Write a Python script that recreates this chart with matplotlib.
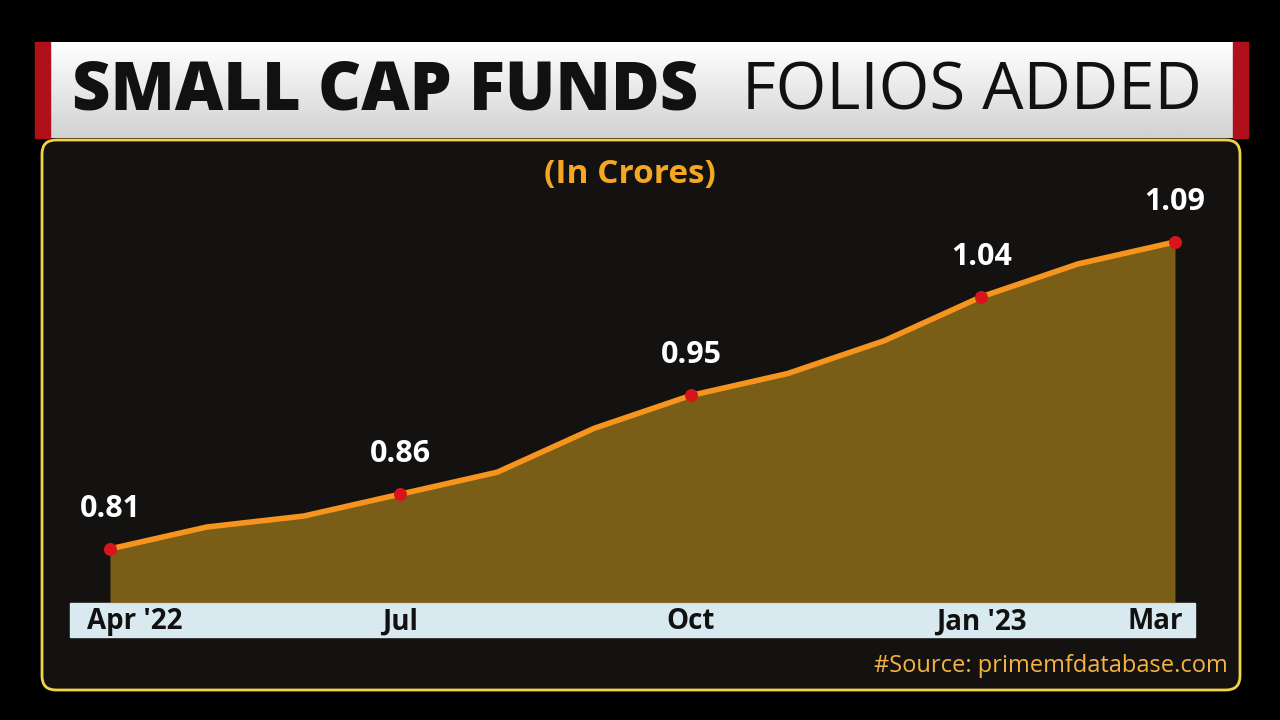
import matplotlib
matplotlib.use("Agg")
import matplotlib.pyplot as plt
import numpy as np
from matplotlib.patches import FancyBboxPatch, Rectangle

months = ["Apr '22", "May", "Jun", "Jul", "Aug", "Sep", "Oct", "Nov", "Dec", "Jan '23", "Feb", "Mar"]
folios = [0.81, 0.83, 0.84, 0.86, 0.88, 0.92, 0.95, 0.97, 1.00, 1.04, 1.07, 1.09]
labelled = [0, 3, 6, 9, 11]
tick_idx = [0, 3, 6, 9, 11]

W, H = 1280, 720
fig = plt.figure(figsize=(12.8, 7.2), dpi=100, facecolor="black")

def box(l, t, r, b):
    return [l / W, 1 - b / H, (r - l) / W, (b - t) / H]

bg = fig.add_axes([0, 0, 1, 1])
bg.set_xlim(0, W); bg.set_ylim(H, 0); bg.axis("off")
bg.add_patch(Rectangle((0, 0), W, H, color="black"))
bg.add_patch(FancyBboxPatch((42, 140), 1198, 550, boxstyle="round,pad=0,rounding_size=14",
                            facecolor="#141210", edgecolor="#f2d24a", lw=2))
# title banner with gradient
grad = np.linspace(1, 0.82, 100).reshape(-1, 1)
bg.imshow(grad, extent=(35, 1248, 138, 42), cmap="gray", vmin=0, vmax=1, aspect="auto", zorder=2)
bg.add_patch(Rectangle((35, 42), 15, 96, color="#b0101a", zorder=3))
bg.add_patch(Rectangle((1233, 42), 15, 96, color="#b0101a", zorder=3))
bg.text(72, 92, "SMALL CAP FUNDS", fontsize=48, fontweight="black", color="#111111",
        ha="left", va="center", family="Open Sans", zorder=4)
bg.text(1202, 92, "FOLIOS ADDED", fontsize=47, color="#111111",
        ha="right", va="center", family="Open Sans", zorder=4)
bg.text(630, 175, "(In Crores)", fontsize=24, fontweight="bold", color="#f5a623",
        ha="center", va="center", family="Open Sans", zorder=4)
bg.text(1228, 666, "#Source: primemfdatabase.com", fontsize=17, color="#f5b342",
        ha="right", va="center", family="Open Sans", zorder=4)
bg.add_patch(Rectangle((70, 603), 1125, 34, color="#d8e9f0", zorder=3))

ax = fig.add_axes(box(70, 140, 1195, 603))
ax.patch.set_alpha(0)
x = np.arange(len(months))
ax.set_xlim(-0.413, 11.207)
ax.set_ylim(0.7607, 1.183)
ax.fill_between(x, folios, 0.7607, color="#e0a81c", alpha=0.5, lw=0)
ax.plot(x, folios, color="#f7941d", lw=4, solid_capstyle="round", zorder=3)
ax.scatter(x[labelled], np.array(folios)[labelled], s=70, color="#d8151b", zorder=4)
for i in labelled:
    ax.annotate(f"{folios[i]:.2f}".rstrip("0") if i == 11 else f"{folios[i]:.2f}",
                (x[i], folios[i]), xytext=(0, 18), textcoords="offset points",
                ha="center", va="bottom", fontsize=22, fontweight="bold",
                color="white", family="Open Sans")
ax.axis("off")

axx = fig.add_axes(box(70, 603, 1195, 637))
axx.set_xlim(ax.get_xlim()); axx.set_ylim(0, 1); axx.axis("off")
for i in tick_idx:
    ha, xp = "center", x[i]
    if i == tick_idx[0]:
        ha, xp = "left", x[i] - 0.24
    elif i == tick_idx[-1]:
        ha, xp = "right", x[i] + 0.08
    axx.text(xp, 0.45, months[i], fontsize=20, fontweight="bold", color="#111111",
             ha=ha, va="center", family="Open Sans")

fig.savefig("out.png", dpi=100, facecolor="black")
